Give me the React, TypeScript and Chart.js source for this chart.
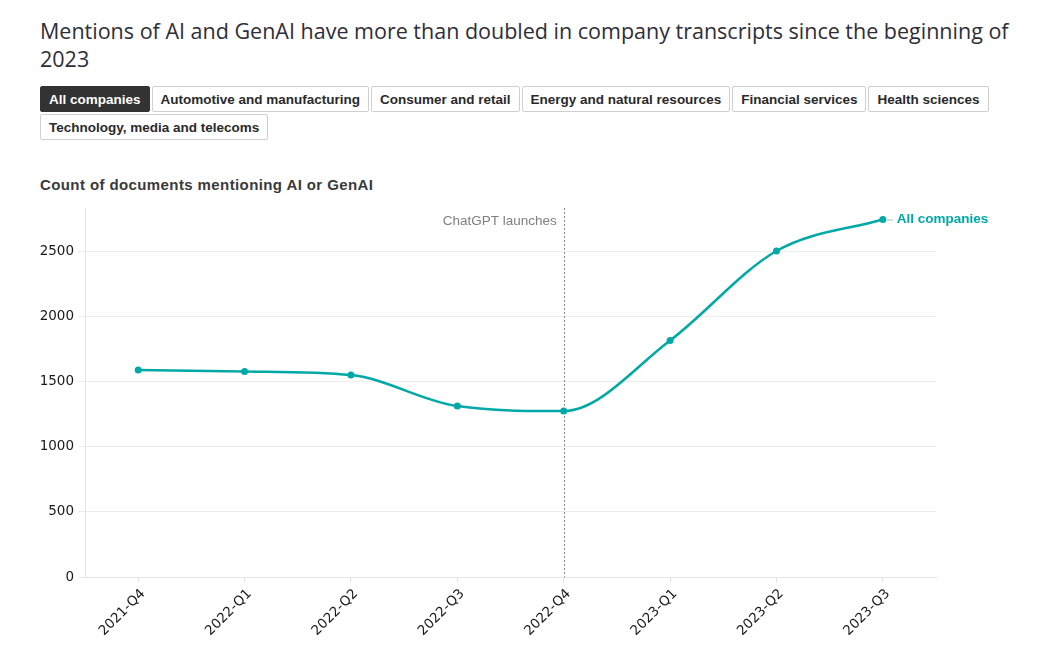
import React, { useEffect, useRef } from "react";
import { Chart, registerables } from "chart.js";

Chart.register(...registerables);

// Quarterly count of company transcripts mentioning AI or GenAI
const quarters = ["2021-Q4", "2022-Q1", "2022-Q2", "2022-Q3", "2022-Q4", "2023-Q1", "2023-Q2", "2023-Q3"];
const allCompanies = [1587, 1576, 1549, 1311, 1273, 1814, 2500, 2742];
const yTickValues = [0, 500, 1000, 1500, 2000, 2500];
const yMax = 2830;

const sectors = [
  "All companies",
  "Automotive and manufacturing",
  "Consumer and retail",
  "Energy and natural resources",
  "Financial services",
  "Health sciences",
  "Technology, media and telecoms",
];
const activeSector = "All companies";
const seriesLabel = "All companies";
const eventQuarter = "2022-Q4";
const eventLabel = "ChatGPT launches";

const TEAL = "#00a9a6";
const TICK_FONT = "'DejaVu Sans', Verdana, sans-serif";
const UI_FONT = "'Liberation Sans', Arial, sans-serif";

const annotationPlugin = {
  id: "eventAndEndLabel",
  beforeDatasetsDraw(chart: any) {
    const { ctx, chartArea, scales } = chart;
    const x = scales.x.getPixelForValue(quarters.indexOf(eventQuarter));
    ctx.save();
    ctx.strokeStyle = "#8c8c8c";
    ctx.lineWidth = 1;
    ctx.setLineDash([2, 2]);
    ctx.beginPath();
    ctx.moveTo(Math.round(x) + 0.5, chartArea.top);
    ctx.lineTo(Math.round(x) + 0.5, chartArea.bottom);
    ctx.stroke();
    ctx.restore();
  },
  afterDatasetsDraw(chart: any) {
    const { ctx, chartArea, scales } = chart;
    const x = scales.x.getPixelForValue(quarters.indexOf(eventQuarter));
    ctx.save();
    ctx.font = `13.5px ${UI_FONT}`;
    ctx.fillStyle = "#808080";
    ctx.textAlign = "right";
    ctx.textBaseline = "middle";
    ctx.fillText(eventLabel, x - 7, chartArea.top + 13);

    const last = allCompanies.length - 1;
    const px = scales.x.getPixelForValue(last);
    const py = scales.y.getPixelForValue(allCompanies[last]);
    ctx.strokeStyle = "#b5b5b5";
    ctx.lineWidth = 1;
    ctx.beginPath();
    ctx.moveTo(px + 4, py + 0.5);
    ctx.lineTo(px + 10, py + 0.5);
    ctx.stroke();
    ctx.font = `bold 13.5px ${UI_FONT}`;
    ctx.fillStyle = TEAL;
    ctx.textAlign = "left";
    ctx.fillText(seriesLabel, px + 14, py);
    ctx.restore();
  },
};

export default function App() {
  const canvasRef = useRef<HTMLCanvasElement | null>(null);

  useEffect(() => {
    if (!canvasRef.current) return;
    const chart = new Chart(canvasRef.current, {
      type: "line",
      data: {
        labels: quarters,
        datasets: [
          {
            label: seriesLabel,
            data: allCompanies,
            borderColor: TEAL,
            backgroundColor: TEAL,
            borderWidth: 2.5,
            pointRadius: 3.5,
            pointBorderWidth: 0,
            pointBackgroundColor: TEAL,
            cubicInterpolationMode: "monotone",
            fill: false,
          },
        ],
      },
      options: {
        animation: false,
        responsive: false,
        devicePixelRatio: 1,
        layout: { padding: { left: 0, right: 119, top: 58, bottom: 0 } },
        plugins: {
          legend: { display: false },
          tooltip: { enabled: false },
          title: { display: false },
        },
        scales: {
          x: {
            type: "category",
            offset: true,
            afterFit(scale: any) {
              scale.height = 81;
            },
            grid: {
              drawOnChartArea: false,
              drawTicks: true,
              tickLength: 6,
              color: "#e4e4e4",
            },
            border: { display: true, color: "#e4e4e4" },
            ticks: {
              autoSkip: false,
              minRotation: 45,
              maxRotation: 45,
              padding: 3,
              labelOffset: 5,
              color: "#1a1a1a",
              font: { family: TICK_FONT, size: 13.5 },
            },
          },
          y: {
            min: 0,
            max: yMax,
            afterFit(scale: any) {
              scale.width = 85;
            },
            afterBuildTicks(scale: any) {
              scale.ticks = yTickValues.map((v) => ({ value: v }));
            },
            grid: {
              color: "#ececec",
              tickLength: 7,
              drawTicks: true,
            },
            border: { display: true, color: "#e4e4e4" },
            ticks: {
              padding: 4,
              color: "#1a1a1a",
              font: { family: TICK_FONT, size: 13.5 },
              callback: (v: any) => String(v),
            },
          },
        },
      },
      plugins: [annotationPlugin],
    });
    return () => chart.destroy();
  }, []);

  return (
    <div style={{ position: "absolute", left: 0, top: 0, width: 1055, height: 658, background: "#fff" }}>
      <div
        style={{
          position: "absolute",
          left: 40,
          top: 17,
          width: 985,
          fontFamily: "'Open Sans', sans-serif",
          fontSize: 21.5,
          fontWeight: 400,
          lineHeight: "28px",
          color: "#2e2e38",
        }}
      >
        Mentions of AI and GenAI have more than doubled in company transcripts since the beginning of 2023
      </div>
      <div
        style={{
          position: "absolute",
          left: 40,
          top: 86,
          width: 975,
          display: "flex",
          flexWrap: "wrap",
          columnGap: 2,
          rowGap: 2,
        }}
      >
        {sectors.map((s) => {
          const active = s === activeSector;
          return (
            <div
              key={s}
              style={{
                height: 26,
                boxSizing: "border-box",
                padding: "0 8px",
                display: "flex",
                alignItems: "center",
                border: `1px solid ${active ? "#333" : "#cfcfcf"}`,
                borderRadius: 2,
                background: active ? "#333" : "#fff",
                color: active ? "#fff" : "#2a2a2a",
                fontFamily: UI_FONT,
                fontWeight: 700,
                fontSize: 13.5,
                whiteSpace: "nowrap",
              }}
            >
              {s}
            </div>
          );
        })}
      </div>
      <div
        style={{
          position: "absolute",
          left: 40,
          top: 176,
          fontFamily: UI_FONT,
          fontWeight: 700,
          fontSize: 15,
          letterSpacing: 0.4,
          color: "#3a3a3a",
          whiteSpace: "nowrap",
        }}
      >
        Count of documents mentioning AI or GenAI
      </div>
      <canvas
        ref={canvasRef}
        width={1055}
        height={508}
        style={{ position: "absolute", left: 0, top: 150, width: 1055, height: 508 }}
      />
    </div>
  );
}
